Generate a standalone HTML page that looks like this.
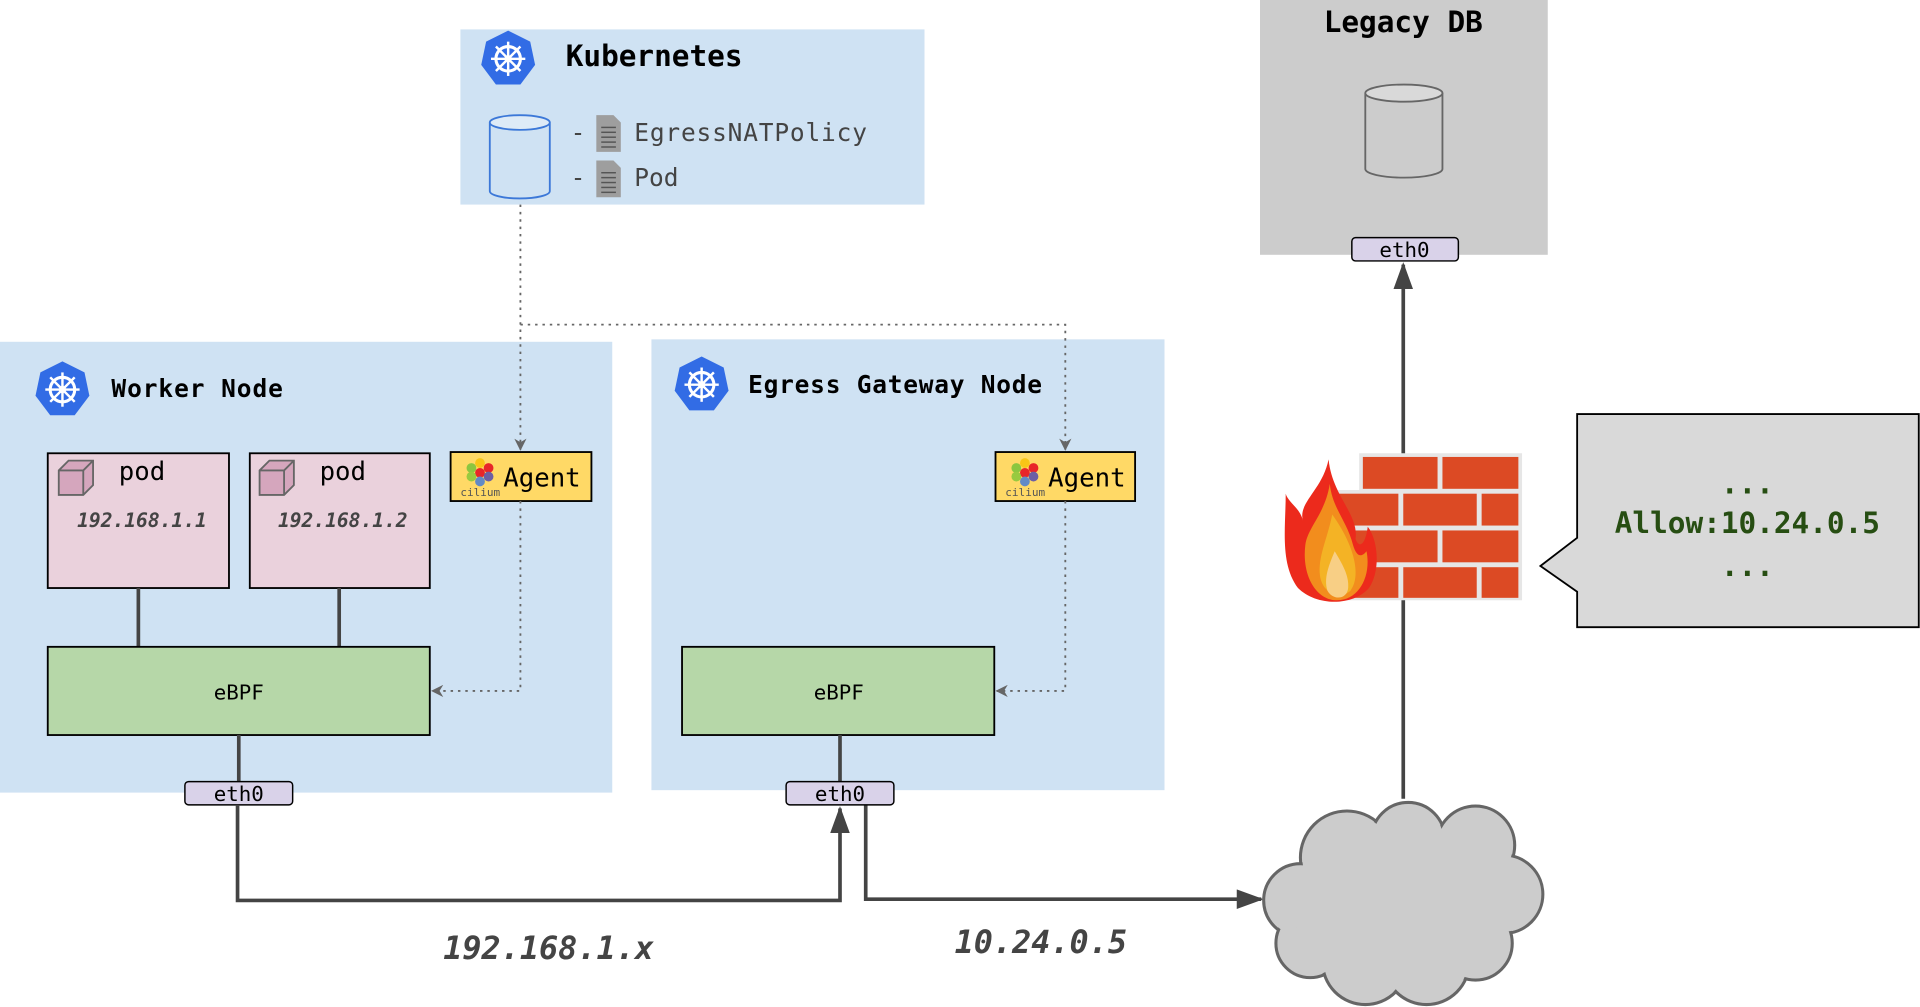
<!DOCTYPE html>
<html><head><meta charset="utf-8"><style>
html,body{margin:0;padding:0;background:#fff;}
svg{display:block}
text{font-family:"DejaVu Sans Mono","Liberation Mono",monospace;}
</style></head><body>
<svg width="1920" height="1007" viewBox="0 0 1568 822" preserveAspectRatio="none" xmlns="http://www.w3.org/2000/svg">
<defs>
<g id="k8s">
<polygon points="0,-23 18,-14 22,5 10,21 -10,21 -22,5 -18,-14" fill="#326ce5"/>
<circle r="10" fill="none" stroke="#fff" stroke-width="2.5"/>
<circle r="3" fill="#fff"/>
<g stroke="#fff" stroke-width="2">
<line x1="0" y1="-14" x2="0" y2="14"/><line x1="-14" y1="0" x2="14" y2="0"/>
<line x1="-10" y1="-10" x2="10" y2="10"/><line x1="10" y1="-10" x2="-10" y2="10"/>
</g>
</g>
<g id="doc">
<path d="M0,0 h14 l6,6 v24 h-20z" fill="#9e9e9e"/>
<g stroke="#555" stroke-width="1.2"><line x1="4" y1="10" x2="16" y2="10"/><line x1="4" y1="14" x2="16" y2="14"/><line x1="4" y1="18" x2="16" y2="18"/><line x1="4" y1="22" x2="16" y2="22"/><line x1="4" y1="26" x2="16" y2="26"/></g>
</g>
<g id="cube">
<path d="M0,8 l8,-8 h20 v20 l-8,8 h-20z" fill="#d5a6bd" stroke="#666" stroke-width="1.5"/>
<path d="M0,8 h20 v20 M20,8 l8,-8" fill="none" stroke="#666" stroke-width="1.5"/>
</g>
<g id="cil">
<circle cx="0" cy="-6" r="4" fill="#f8c517"/><circle cx="7" cy="-2" r="4" fill="#e82629"/><circle cx="-7" cy="-2" r="4" fill="#8cc63f"/>
<circle cx="0" cy="2" r="4" fill="#e82629"/><circle cx="7" cy="5" r="4" fill="#6c5fa4"/><circle cx="-7" cy="5" r="4" fill="#98ca3f"/><circle cx="0" cy="9" r="4" fill="#628ac6"/>
</g>
<marker id="ah" markerWidth="10" markerHeight="10" refX="9" refY="5" orient="auto" markerUnits="userSpaceOnUse"><path d="M0,0 L10,5 L0,10 L3,5z" fill="#666"/></marker>
<marker id="ab" markerWidth="22" markerHeight="16" refX="20" refY="8" orient="auto" markerUnits="userSpaceOnUse"><path d="M0,0 L22,8 L0,16z" fill="#444"/></marker>
</defs>

<rect x="376" y="24" width="379" height="143" fill="#cfe2f3"/>
<use href="#k8s" x="415" y="48"/>
<text x="462" y="54" font-size="24" font-weight="bold">Kubernetes</text>
<path d="M400,100 v56 a24.5,6 0 0 0 49,0 v-56" fill="#cfe2f3" stroke="#3c78d8" stroke-width="1.5"/>
<ellipse cx="424.5" cy="100" rx="24.5" ry="6" fill="#deebf7" stroke="#3c78d8" stroke-width="1.5"/>
<text x="466" y="115" font-size="20" fill="#444">-</text><use href="#doc" x="487" y="94"/>
<text x="518" y="115" font-size="20" fill="#444" textLength="190">EgressNATPolicy</text>
<text x="466" y="152" font-size="20" fill="#444">-</text><use href="#doc" x="487" y="131"/>
<text x="518" y="152" font-size="20" fill="#444">Pod</text>

<rect x="1029" y="0" width="235" height="208" fill="#cccccc"/>
<text x="1146" y="26" font-size="24" font-weight="bold" text-anchor="middle">Legacy DB</text>
<path d="M1115,76 v62 a31.5,7 0 0 0 63,0 v-62" fill="#cccccc" stroke="#666" stroke-width="1.5"/>
<ellipse cx="1146.5" cy="76" rx="31.5" ry="7" fill="#d9d9d9" stroke="#666" stroke-width="1.5"/>
<rect x="1104" y="194" width="87" height="19" rx="3" fill="#d9d2e9" stroke="#000" stroke-width="1.2"/>
<text x="1147" y="210" font-size="17" text-anchor="middle">eth0</text>

<rect x="0" y="279" width="500" height="368" fill="#cfe2f3"/>
<use href="#k8s" x="51" y="318"/>
<text x="91" y="324" font-size="20" font-weight="bold" textLength="140">Worker Node</text>
<rect x="39" y="370" width="148" height="110" fill="#ead1dc" stroke="#000" stroke-width="1.5"/>
<use href="#cube" x="48" y="376"/>
<text x="97" y="392" font-size="21">pod</text>
<text x="63" y="430" font-size="16" font-weight="bold" font-style="italic" fill="#444">192.168.1.1</text>
<rect x="204" y="370" width="147" height="110" fill="#ead1dc" stroke="#000" stroke-width="1.5"/>
<use href="#cube" x="212" y="376"/>
<text x="261" y="392" font-size="21">pod</text>
<text x="227" y="430" font-size="16" font-weight="bold" font-style="italic" fill="#444">192.168.1.2</text>
<rect x="368" y="369" width="115" height="40" fill="#ffd966" stroke="#000" stroke-width="1.5"/>
<use href="#cil" x="392" y="384"/><text x="376" y="405" font-size="9" fill="#555" font-family="Liberation Sans,sans-serif">cilium</text>
<text x="411" y="397" font-size="21">Agent</text>
<line x1="113" y1="480" x2="113" y2="528" stroke="#444" stroke-width="3"/>
<line x1="277" y1="480" x2="277" y2="528" stroke="#444" stroke-width="3"/>
<rect x="39" y="528" width="312" height="72" fill="#b6d7a8" stroke="#000" stroke-width="1.5"/>
<text x="195" y="571" font-size="17" text-anchor="middle">eBPF</text>
<line x1="195" y1="600" x2="195" y2="638" stroke="#444" stroke-width="3"/>
<rect x="151" y="638" width="88" height="19" rx="3" fill="#d9d2e9" stroke="#000" stroke-width="1.2"/>
<text x="195" y="654" font-size="17" text-anchor="middle">eth0</text>

<rect x="532" y="277" width="419" height="368" fill="#cfe2f3"/>
<use href="#k8s" x="573" y="314"/>
<text x="611" y="321" font-size="20" font-weight="bold" textLength="240">Egress Gateway Node</text>
<rect x="813" y="369" width="114" height="40" fill="#ffd966" stroke="#000" stroke-width="1.5"/>
<use href="#cil" x="837" y="384"/><text x="821" y="405" font-size="9" fill="#555" font-family="Liberation Sans,sans-serif">cilium</text>
<text x="856" y="397" font-size="21">Agent</text>
<rect x="557" y="528" width="255" height="72" fill="#b6d7a8" stroke="#000" stroke-width="1.5"/>
<text x="685" y="571" font-size="17" text-anchor="middle">eBPF</text>
<line x1="686" y1="600" x2="686" y2="638" stroke="#444" stroke-width="3"/>

<g fill="none" stroke="#666" stroke-width="1.5" stroke-dasharray="2,4">
<path d="M425,167 V367" marker-end="url(#ah)"/>
<path d="M425,265 H870 V367" marker-end="url(#ah)"/>
<path d="M425,409 V564 H353" marker-end="url(#ah)"/>
<path d="M870,409 V564 H814" marker-end="url(#ah)"/>
</g>

<g fill="none" stroke="#444" stroke-width="3">
<path d="M194,657 V735 H686 V660" marker-end="url(#ab)"/>
<path d="M707,657 V734 H1030" marker-end="url(#ab)"/>
<path d="M1146,652 V216" marker-end="url(#ab)"/>
</g>
<rect x="642" y="638" width="88" height="19" rx="3" fill="#d9d2e9" stroke="#000" stroke-width="1.2"/>
<text x="686" y="654" font-size="17" text-anchor="middle">eth0</text>
<text x="448" y="783" font-size="26" font-weight="bold" font-style="italic" fill="#444" text-anchor="middle">192.168.1.x</text>
<text x="850" y="778" font-size="26" font-weight="bold" font-style="italic" fill="#444" text-anchor="middle">10.24.0.5</text>

<g stroke="#666" stroke-width="2.5" fill="#cccccc">
<circle cx="1100" cy="700" r="38"/><circle cx="1150" cy="685" r="30"/><circle cx="1205" cy="690" r="32"/>
<circle cx="1228" cy="730" r="32"/><circle cx="1062" cy="735" r="30"/><circle cx="1070" cy="770" r="28"/>
<circle cx="1115" cy="785" r="35"/><circle cx="1165" cy="785" r="35"/><circle cx="1205" cy="770" r="30"/><circle cx="1145" cy="735" r="50"/>
</g>
<g fill="#cccccc">
<circle cx="1100" cy="700" r="36.5"/><circle cx="1150" cy="685" r="28.5"/><circle cx="1205" cy="690" r="30.5"/>
<circle cx="1228" cy="730" r="30.5"/><circle cx="1062" cy="735" r="28.5"/><circle cx="1070" cy="770" r="26.5"/>
<circle cx="1115" cy="785" r="33.5"/><circle cx="1165" cy="785" r="33.5"/><circle cx="1205" cy="770" r="28.5"/>
<ellipse cx="1145" cy="740" rx="90" ry="60"/>
</g>

<path d="M1110,370 h133 v120 h-158 v-90 h25z" fill="#e6e6e6"/>
<g fill="#dc4a24">
<rect x="1113" y="373" width="61" height="26"/><rect x="1178" y="373" width="62" height="26"/>
<rect x="1090" y="403" width="52" height="26"/><rect x="1146" y="403" width="60" height="26"/><rect x="1210" y="403" width="30" height="26"/>
<rect x="1090" y="433" width="84" height="26"/><rect x="1178" y="433" width="62" height="26"/>
<rect x="1090" y="463" width="52" height="25"/><rect x="1146" y="463" width="60" height="25"/><rect x="1210" y="463" width="30" height="25"/>
</g>
<path d="M1085,375 C1080,400 1060,410 1064,425 C1062,415 1052,410 1050,403 C1050,430 1045,460 1060,480 C1075,495 1105,495 1118,480 C1128,465 1125,440 1117,430 C1115,445 1110,448 1107,440 C1110,420 1088,405 1085,375z" fill="#ec2a1c"/>
<path d="M1086,395 C1082,420 1068,430 1066,445 C1063,470 1075,490 1092,490 C1110,490 1120,470 1116,450 C1112,455 1108,455 1105,445 C1100,425 1088,415 1086,395z" fill="#f28d1d"/>
<path d="M1088,420 C1084,440 1076,455 1078,470 C1080,485 1095,490 1103,482 C1112,470 1106,445 1088,420z" fill="#f4b325"/>
<path d="M1090,450 C1085,462 1081,472 1084,482 C1088,490 1100,490 1101,480 C1102,470 1096,460 1090,450z" fill="#f8cf85"/>

<path d="M1288,338 H1567 V512 H1288 V483 L1258,462 L1288,439z" fill="#d9d9d9" stroke="#000" stroke-width="1.5"/>
<g font-size="24" font-weight="bold" fill="#274e13" text-anchor="middle">
<text x="1427" y="403">...</text>
<text x="1427" y="435">Allow:10.24.0.5</text>
<text x="1427" y="470">...</text>
</g>
</svg>
</body></html>
